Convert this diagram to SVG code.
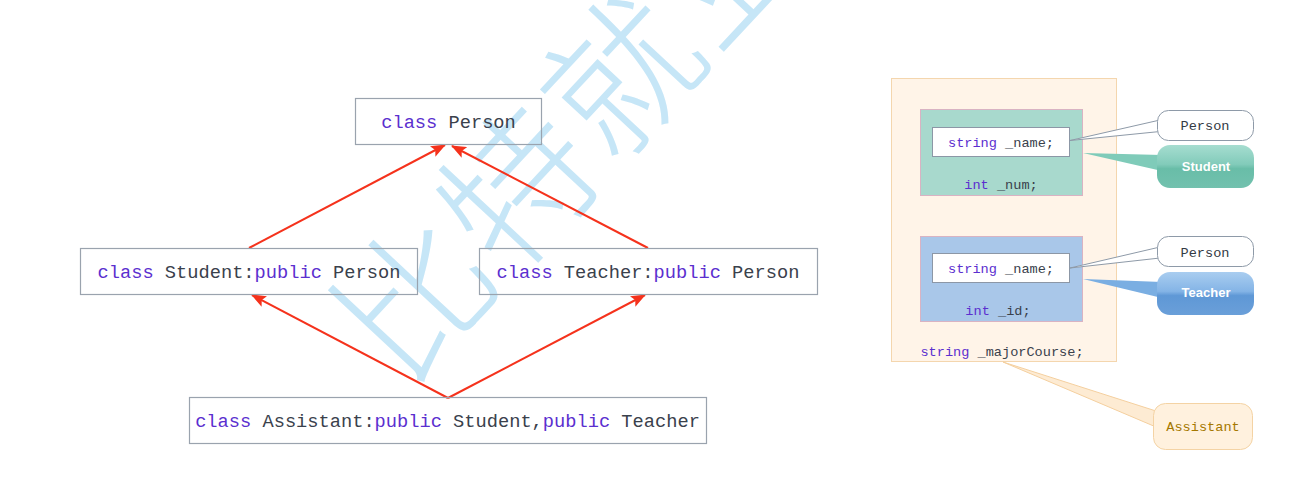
<svg xmlns="http://www.w3.org/2000/svg" width="1313" height="487" viewBox="0 0 1313 487">
<style>
.code{font-family:"Liberation Mono","DejaVu Sans Mono",monospace;font-size:18.7px;fill:#3a414c;text-anchor:middle}
.sm{font-family:"Liberation Mono","DejaVu Sans Mono",monospace;font-size:13.6px;fill:#3a414c;text-anchor:middle}
.kw{fill:#5b2fcf}
.box{fill:none;stroke:#9aa3ae;stroke-width:1.2}
.arr{stroke:#f5321c;stroke-width:2;fill:none;marker-end:url(#ah)}
.wm{font-family:"Noto Sans CJK SC","Noto Sans",sans-serif;font-size:150px;font-weight:300;fill:#c6e6f7;letter-spacing:2px}
.lbl{font-family:"Liberation Sans",Arial,sans-serif;font-weight:bold;font-size:13px;fill:#ffffff;text-anchor:middle}
.inner{fill:#ffffff;stroke:#8c97a6;stroke-width:1}
</style>
<defs>
<marker id="ah" markerWidth="15" markerHeight="12" refX="14" refY="6" orient="auto" markerUnits="userSpaceOnUse">
<path d="M0,0 L15,6 L0,12 L3,6 z" fill="#f5321c"/>
</marker>
<linearGradient id="gTeal" x1="0" y1="0" x2="0" y2="1">
<stop offset="0" stop-color="#a6ddd0"/>
<stop offset="0.45" stop-color="#82cbba"/>
<stop offset="0.55" stop-color="#69bda8"/>
<stop offset="1" stop-color="#72c1ae"/>
</linearGradient>
<linearGradient id="gBlue" x1="0" y1="0" x2="0" y2="1">
<stop offset="0" stop-color="#a9cdf0"/>
<stop offset="0.45" stop-color="#84b4e6"/>
<stop offset="0.55" stop-color="#5f98d6"/>
<stop offset="1" stop-color="#6a9fd9"/>
</linearGradient>
</defs>
<rect x="0" y="0" width="1313" height="487" fill="#ffffff"/>

<g id="watermark">
<text class="wm" transform="translate(415,298) rotate(-47)" x="-75" y="55">比特就业</text>
</g>

<g id="connectors">
<line class="arr" x1="249" y1="248" x2="445" y2="145"/>
<line class="arr" x1="648" y1="248" x2="452" y2="146"/>
<line class="arr" x1="448" y1="398" x2="252" y2="295"/>
<line class="arr" x1="448" y1="398" x2="645" y2="295"/>
</g>

<g id="person">
<rect class="box" x="355.5" y="98.5" width="186" height="46"/>
<text class="code" x="448.5" y="128"><tspan class="kw">class</tspan> Person</text>
</g>
<g id="student">
<rect class="box" x="80.5" y="248.5" width="337" height="46"/>
<text class="code" x="249" y="277.5"><tspan class="kw">class</tspan> Student:<tspan class="kw">public</tspan> Person</text>
</g>
<g id="teacher">
<rect class="box" x="479.5" y="248.5" width="338" height="46"/>
<text class="code" x="648" y="277.5"><tspan class="kw">class</tspan> Teacher:<tspan class="kw">public</tspan> Person</text>
</g>
<g id="assistant">
<rect class="box" x="189.5" y="397.5" width="517" height="46"/>
<text class="code" x="447.5" y="427"><tspan class="kw">class</tspan> Assistant:<tspan class="kw">public</tspan> Student,<tspan class="kw">public</tspan> Teacher</text>
</g>

<g id="assistant-object">
<rect x="891.5" y="78.5" width="225" height="283" fill="#fff4e8" stroke="#f4d6ae" stroke-width="1"/>
<text class="sm" x="1002" y="356"><tspan class="kw">string</tspan> _majorCourse;</text>
</g>
<g id="student-part">
<rect x="920.5" y="109.5" width="162" height="86" fill="#a8d9cd" stroke="#d9b3c3" stroke-width="1"/>
<rect class="inner" x="932.5" y="127.5" width="137" height="29"/>
<text class="sm" x="1001" y="146.5"><tspan class="kw">string</tspan> _name;</text>
<text class="sm" x="1001" y="189"><tspan class="kw">int</tspan> _num;</text>
</g>
<g id="teacher-part">
<rect x="920.5" y="236.5" width="162" height="85" fill="#a9c7e9" stroke="#d9b3c3" stroke-width="1"/>
<rect class="inner" x="932.5" y="253.5" width="137" height="29"/>
<text class="sm" x="1001" y="273"><tspan class="kw">string</tspan> _name;</text>
<text class="sm" x="998" y="315"><tspan class="kw">int</tspan> _id;</text>
</g>

<g id="callout-person-1">
<path d="M1160,120 L1070,140.5 L1160,131.5" fill="#ffffff" stroke="#8e9aa8" stroke-width="1"/>
<rect x="1157.5" y="110.5" width="96" height="30" rx="11" fill="#ffffff" stroke="#8e9aa8" stroke-width="1"/>
<text class="sm" x="1205" y="130" style="fill:#333a44">Person</text>
</g>
<g id="callout-student">
<path d="M1162,155 L1083,153 L1162,171 z" fill="#7fcbb9"/>
<rect x="1157" y="145" width="97" height="43" rx="13" fill="url(#gTeal)"/>
<text class="lbl" x="1206" y="170.5">Student</text>
</g>
<g id="callout-person-2">
<path d="M1160,247 L1070,268 L1160,258" fill="#ffffff" stroke="#8e9aa8" stroke-width="1"/>
<rect x="1157.5" y="236.5" width="96" height="30" rx="11" fill="#ffffff" stroke="#8e9aa8" stroke-width="1"/>
<text class="sm" x="1205" y="256.5" style="fill:#333a44">Person</text>
</g>
<g id="callout-teacher">
<path d="M1162,282 L1083,279 L1162,298 z" fill="#7aaee2"/>
<rect x="1157" y="272" width="97" height="43" rx="13" fill="url(#gBlue)"/>
<text class="lbl" x="1206" y="297">Teacher</text>
</g>
<g id="callout-assistant">
<path d="M1156,411 L1003,362 L1156,427" fill="#fdebd3" stroke="#f4cf9e" stroke-width="1"/>
<rect x="1153.5" y="403.5" width="99" height="46" rx="12" fill="#fff1de" stroke="#f4d3a4" stroke-width="1"/>
<text class="sm" x="1203" y="431" style="fill:#a57800">Assistant</text>
</g>
</svg>
